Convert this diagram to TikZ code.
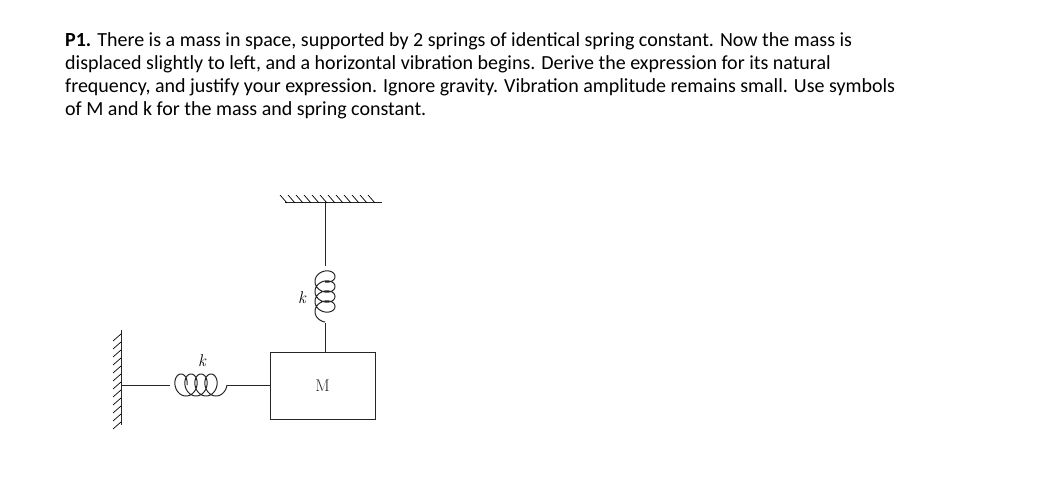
\documentclass[tikz,border=0pt]{standalone}
\usepackage{fontspec}
\setmainfont{Carlito}
\begin{document}
\begin{tikzpicture}[x=1pt,y=1pt,
  ln/.style={line width=1pt,black!85},
  lbl/.style={font=\fontspec{Latin Modern Roman}\itshape\fontsize{17}{17}\selectfont}]
\useasboundingbox (0,0) rectangle (1051,-502);
\node[anchor=north west,align=left,inner sep=0pt,font=\fontsize{20}{23}\selectfont] (txt) at (65,-32)
{\textbf{P1.} There is a mass in space, supported by 2 springs of identical spring constant. Now the mass is\\
displaced slightly to left, and a horizontal vibration begins. Derive the expression for its natural\\
frequency, and justify your expression. Ignore gravity. Vibration amplitude remains small. Use symbols\\
of M and k for the mass and spring constant.};
% ceiling
\coordinate (c1) at (285,-203); \coordinate (c2) at (382,-203);
\draw[ln] (c1) -- (c2);
\foreach \i in {0,...,11} \draw[line width=0.7pt] (287+\i*8,-203) -- ++(-7,8);
% wall
\coordinate (w1) at (121,-330); \coordinate (w2) at (121,-425);
\draw[ln] (w1) -- (w2);
\foreach \i in {0,...,11} \draw[line width=0.7pt] (121,-334-\i*8) -- ++(-8,-7);
% mass
\node[draw,ln,minimum width=105pt,minimum height=67pt,inner sep=0pt,font=\fontspec{Latin Modern Roman}\fontsize{17}{17}\selectfont] (M) at (322.5,-385.5) {M};
% vertical spring
\coordinate (ct) at (325,-203); \coordinate (vs1) at (325,-266); \coordinate (vs2) at (325,-323);
\draw[ln] (ct) -- (vs1);
\draw[ln,shift={(vs1)}] plot[domain=-90:1350,samples=300,variable=\t] ({10*cos(\t)},{-(10*(\t+90)/360 + 8 - 8*sin(\t))});
\draw[ln] (vs2) -- (M.north -| vs2);
\node[lbl] (k1) at (302,-298) {k};
% horizontal spring
\coordinate (wl) at (121,-385); \coordinate (hs1) at (170,-385); \coordinate (hs2) at (227,-385);
\draw[ln] (wl) -- (hs1);
\draw[ln,shift={(hs1)}] plot[domain=-90:1350,samples=300,variable=\t] ({10*(\t+90)/360 + 8.5 - 8.5*sin(\t)},{11*cos(\t)});
\draw[ln] (hs2) -- (M.west |- hs2);
\node[lbl] (k2) at (202,-361) {k};
\end{tikzpicture}
\end{document}
